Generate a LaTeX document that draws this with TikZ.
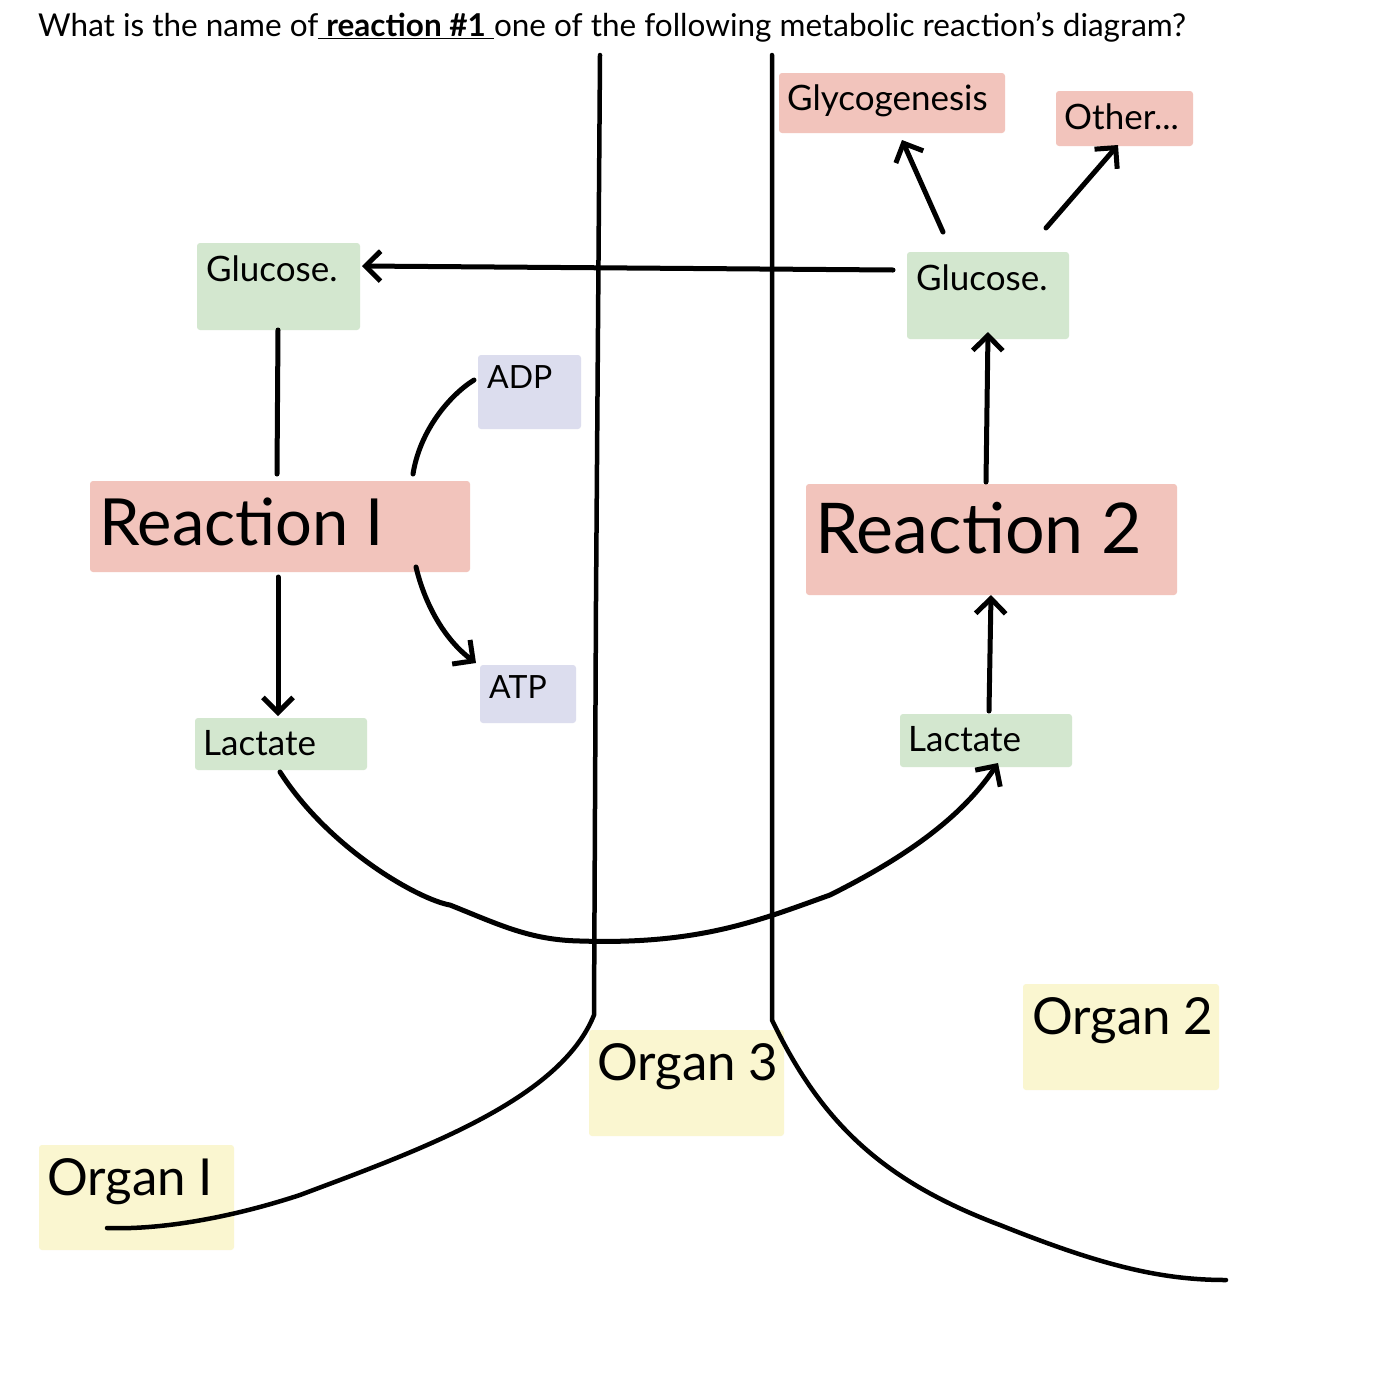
\documentclass[tikz,border=0pt]{standalone}
\usepackage{fontspec}
\setmainfont{Lato}
\usetikzlibrary{arrows.meta}
\definecolor{gr}{HTML}{D3E7CF}
\definecolor{pk}{HTML}{F2C4BC}
\definecolor{lv}{HTML}{DCDDEE}
\definecolor{yl}{HTML}{FAF6D0}
\begin{document}
\begin{tikzpicture}[x=1pt,y=-1pt,
 box/.style={rounded corners=3pt,draw=none},
 txt/.style={anchor=north west,inner sep=0pt},
 ln/.style={line width=5pt,line cap=round},
 ar/.style={ln,-{Straight Barb[length=15pt,width=30pt,line width=5pt]}}]
\useasboundingbox[fill=white] (0,0) rectangle (1398,1376);
\node[txt] (title) at (38,12) {\fontsize{31.5pt}{36pt}\selectfont What is the name of\underline{ \textbf{reaction \#1} }one of the following metabolic reaction's diagram?};
% boxes
\fill[box,gr] (197,243) rectangle (360,330);
\fill[box,lv] (478,355) rectangle (581,429);
\fill[box,pk] (90,481) rectangle (470,572);
\fill[box,lv] (480,665) rectangle (576,723);
\fill[box,gr] (195,718) rectangle (367,770);
\fill[box,pk] (779,73) rectangle (1005,133);
\fill[box,pk] (1056,91) rectangle (1193,146);
\fill[box,gr] (907,252) rectangle (1069,339);
\fill[box,pk] (806,484) rectangle (1177,595);
\fill[box,gr] (900,714) rectangle (1072,767);
\fill[box,yl] (1023,984) rectangle (1219,1090);
\fill[box,yl] (589,1030) rectangle (784,1136);
\fill[box,yl] (39,1145) rectangle (234,1250);
\node[txt] (g1) at (206,256) {\fontsize{35pt}{40pt}\selectfont Glucose.};
\node[txt] (adp) at (487,365) {\fontsize{32pt}{36pt}\selectfont ADP};
\node[txt] (r1) at (99,498) {\fontsize{65pt}{70pt}\selectfont Reaction I};
\node[txt] (atp) at (489,675) {\fontsize{32pt}{36pt}\selectfont ATP};
\node[txt] (l1) at (203,730) {\fontsize{35pt}{40pt}\selectfont Lactate};
\node[txt] (gly) at (787,85) {\fontsize{35pt}{40pt}\selectfont Glycogenesis};
\node[txt] (oth) at (1064,104) {\fontsize{35pt}{40pt}\selectfont Other...};
\node[txt] (g2) at (916,265) {\fontsize{35pt}{40pt}\selectfont Glucose.};
\node[txt] (r2) at (815,502) {\fontsize{70pt}{75pt}\selectfont Reaction 2};
\node[txt] (l2) at (908,726) {\fontsize{35pt}{40pt}\selectfont Lactate};
\node[txt] (o2) at (1032,997) {\fontsize{51pt}{56pt}\selectfont Organ 2};
\node[txt] (o3) at (597,1043) {\fontsize{51pt}{56pt}\selectfont Organ 3};
\node[txt] (o1) at (47,1158) {\fontsize{51pt}{56pt}\selectfont Organ I};
% vessels
\coordinate (v1t) at (600,55); \coordinate (v1b) at (594,1015); \coordinate (v1e) at (107,1228);
\coordinate (v2t) at (772,55); \coordinate (v2b) at (772,1020); \coordinate (v2e) at (1226,1280);
\draw[line width=4.5pt,line cap=round] (v1t) -- (596,600) -- (v1b) .. controls (560,1100) and (420,1150) .. (300,1195) .. controls (230,1218) and (160,1230) .. (v1e);
\draw[line width=4.5pt,line cap=round] (v2t) -- (772,600) -- (v2b) .. controls (820,1120) and (880,1180) .. (1000,1225) .. controls (1100,1265) and (1160,1280) .. (v2e);
% arrows
\coordinate (a1s) at (893,270); \coordinate (a1e) at (362,266);
\draw[ar] (a1s) -- (a1e);
\draw[ln] (278,330) -- (277,474);
\draw[ar] (278,577) -- (278,716);
\draw[ln] (413,474) .. controls (420,430) and (450,395) .. (474,380);
\draw[ar] (416,567) .. controls (425,605) and (445,640) .. (476,663);
\draw[ar] (280,772) .. controls (330,850) and (420,900) .. (450,905) .. controls (500,925) and (530,940) .. (580,941) .. controls (700,945) and (760,920) .. (830,895) .. controls (900,860) and (960,820) .. (998,763);
\draw[ar] (989,711) -- (991,595);
\draw[ar] (986,482) -- (988,332);
\draw[ar] (943,232) -- (902,140);
\draw[ar] (1046,228) -- (1118,145);
\end{tikzpicture}
\end{document}
